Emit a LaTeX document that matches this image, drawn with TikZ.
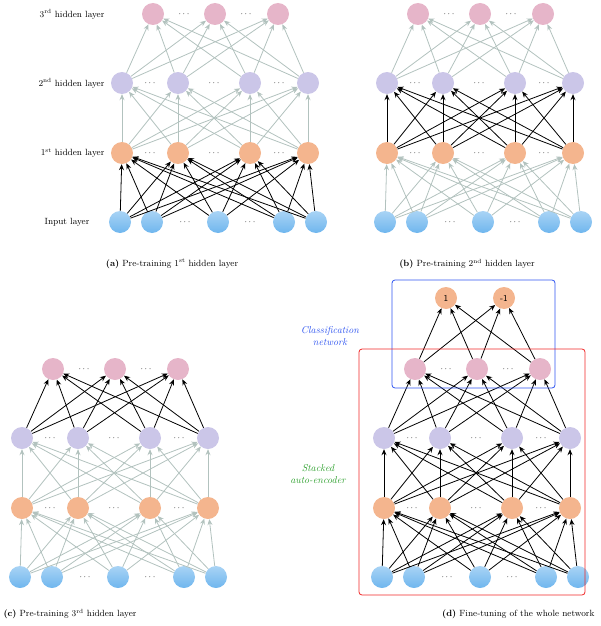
\documentclass[tikz,border=0pt]{standalone}
\usetikzlibrary{arrows.meta}
\definecolor{cin}{HTML}{6FB6EE}
\definecolor{ch1}{HTML}{F4B58E}
\definecolor{ch2}{HTML}{CBC6E8}
\definecolor{ch3}{HTML}{E6B5C9}
\definecolor{cgr}{HTML}{B2C2BE}
\definecolor{cbl}{HTML}{2F55F0}
\definecolor{crd}{HTML}{F02828}
\definecolor{cgn}{HTML}{2EA02E}
\tikzset{
 neu/.style={circle,minimum size=22pt,inner sep=0pt},
 l0/.style={neu,top color=cin!60!white,bottom color=cin},
 l1/.style={neu,fill=ch1},
 l2/.style={neu,fill=ch2},
 l3/.style={neu,fill=ch3},
 dt/.style={font=\small},
 bk/.style={black,line width=0.8pt,-{Stealth[length=6pt,width=5pt]}},
 gy/.style={cgr,line width=0.8pt,-{Stealth[length=6pt,width=5pt]}},
 lab/.style={font=\small,anchor=east},
 capt/.style={font=\small},
}
\newcommand\mypanel[6]{%
\begin{scope}[shift={(#2,#3)}]
 \foreach \i/\x in {1/120,2/152,3/218,4/284,5/316} \node[l0] (#1i\i) at (\x,222) {};
 \foreach \i/\x in {1/122,2/178,3/250,4/308} \node[l1] (#1a\i) at (\x,153) {};
 \foreach \i/\x in {1/122,2/178,3/250,4/308} \node[l2] (#1b\i) at (\x,83) {};
 \foreach \i/\x in {1/153,2/215,3/278} \node[l3] (#1c\i) at (\x,14) {};
 \foreach \x in {185,250} \node[dt] at (\x,222) {$\cdots$};
 \foreach \x in {150,214,279} {\node[dt] at (\x,153) {$\cdots$}; \node[dt] at (\x,83) {$\cdots$};}
 \foreach \x in {184,246} \node[dt] at (\x,14) {$\cdots$};
 \foreach \j in {1,...,4} \foreach \i in {1,...,5} \draw[#4] (#1i\i) -- (#1a\j);
 \foreach \j in {1,...,4} \foreach \i in {1,...,4} \draw[#5] (#1a\i) -- (#1b\j);
 \foreach \j in {1,...,3} \foreach \i in {1,...,4} \draw[#6] (#1b\i) -- (#1c\j);
\end{scope}}
\begin{document}
\begin{tikzpicture}[x=1pt,y=-1pt]
\useasboundingbox (0,0) rectangle (600,626);
\mypanel{A}{0}{0}{bk}{gy}{gy}
\mypanel{B}{265}{0}{gy}{bk}{gy}
\mypanel{C}{-100}{355}{gy}{gy}{bk}
\mypanel{D}{262}{355}{bk}{bk}{bk}
\node[l1,font=\small\sffamily] (o1) at (446,298) {1};
\node[l1,font=\small\sffamily] (o2) at (504,298) {-1};
\foreach \i in {1,2,3} {\draw[bk] (Dc\i) -- (o1); \draw[bk] (Dc\i) -- (o2);}
\draw[cbl,line width=0.8pt,rounded corners=3pt] (392,280) rectangle (555,388);
\draw[crd,line width=0.8pt,rounded corners=3pt] (359,349) rectangle (585,595);
\node[cbl,font=\itshape,align=center] (cl) at (330,336) {Classification\\network};
\node[cgn,font=\itshape,align=center] (sa) at (318,474) {Stacked\\auto-encoder};
\node[lab] (t3) at (108,14) {3\textsuperscript{rd} hidden layer};
\node[lab] (t2) at (108,83) {2\textsuperscript{nd} hidden layer};
\node[lab] (t1) at (108,153) {1\textsuperscript{st} hidden layer};
\node[lab] (t0) at (93,222) {Input layer};
\node[capt] (ca) at (172,264) {\textbf{(a)} Pre-training 1\textsuperscript{st} hidden layer};
\node[capt] (cb) at (467,264) {\textbf{(b)} Pre-training 2\textsuperscript{nd} hidden layer};
\node[capt,anchor=west] (cc) at (0,614) {\textbf{(c)} Pre-training 3\textsuperscript{rd} hidden layer};
\node[capt,anchor=east] (cd) at (598,614) {\textbf{(d)} Fine-tuning of the whole network};
\end{tikzpicture}
\end{document}
